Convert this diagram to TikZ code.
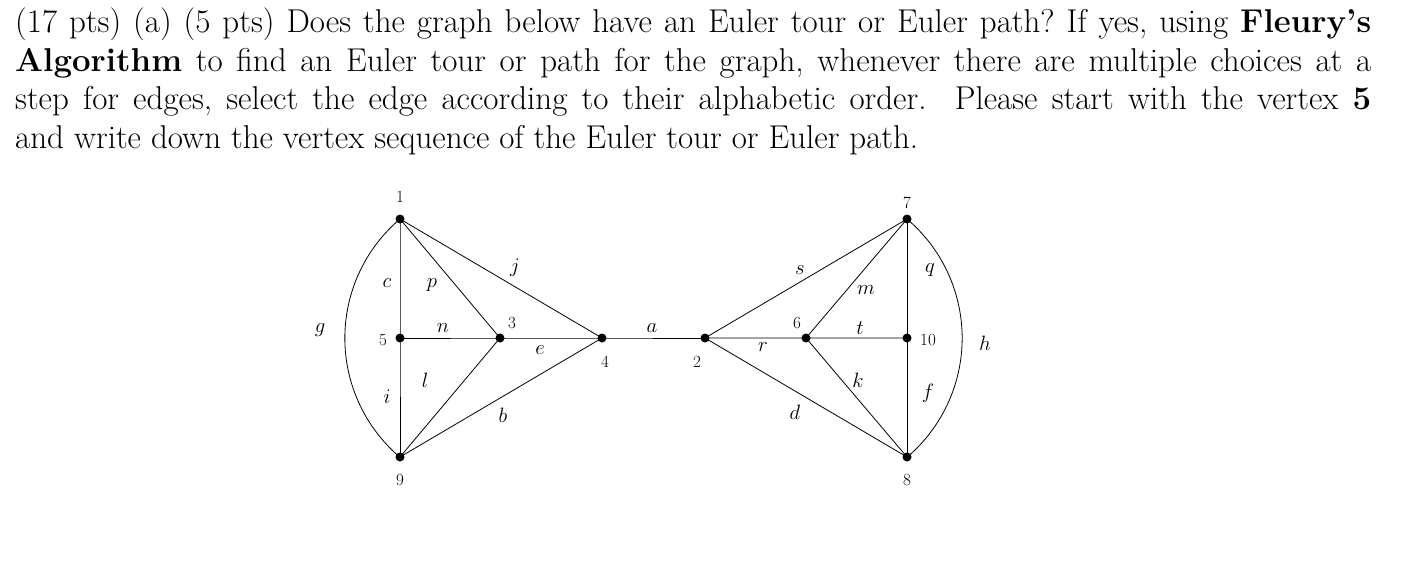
\documentclass[tikz,border=0pt]{standalone}
\begin{document}
\begin{tikzpicture}[x=1pt,y=-1pt,
  vtx/.style={circle,fill=black,inner sep=0pt,minimum size=9pt},
  el/.style={font=\fontsize{22}{22}\selectfont},
  nl/.style={font=\fontsize{17}{17}\selectfont},
  ed/.style={line width=0.8pt}]
\useasboundingbox (0,0) rectangle (1402,568);
\node[anchor=north west,inner sep=0pt,text width=1356pt,align=justify,
  font=\fontsize{33}{38.5}\selectfont\frenchspacing] (txt) at (15,8)
{(17 pts) (a) (5 pts) Does the graph below have an Euler tour or Euler path? If yes, using \textbf{Fleury's}\linebreak \textbf{Algorithm} to find an Euler tour or path for the graph, whenever there are multiple choices at a\linebreak step for edges, select the edge according to their alphabetic order.\ \ Please start with the vertex \textbf{5}\linebreak and write down the vertex sequence of the Euler tour or Euler path.};
\node[vtx] (v1) at (400,219) {};
\node[vtx] (v5) at (400,338) {};
\node[vtx] (v9) at (400,457) {};
\node[vtx] (v3) at (500,338) {};
\node[vtx] (v4) at (602,338) {};
\node[vtx] (v2) at (705,338) {};
\node[vtx] (v6) at (806,338) {};
\node[vtx] (v10) at (907,338) {};
\node[vtx] (v7) at (907,219) {};
\node[vtx] (v8) at (907,457) {};
\draw[ed] (v1.center)--(v5.center)--(v9.center);
\draw[ed] (v1.center)--(v3.center) (v1.center)--(v4.center);
\draw[ed] (v5.center)--(v3.center)--(v4.center)--(v2.center);
\draw[ed] (v9.center)--(v3.center) (v9.center)--(v4.center);
\draw[ed] (v2.center)--(v7.center) (v2.center)--(v6.center)--(v10.center) (v2.center)--(v8.center);
\draw[ed] (v6.center)--(v7.center) (v6.center)--(v8.center);
\draw[ed] (v7.center)--(v10.center)--(v8.center);
\draw[ed] (v1.center) arc[start angle=-130.3,end angle=-229.7,radius=156.2];
\draw[ed] (v7.center) arc[start angle=-49.7,end angle=49.7,radius=156.2];
\node[nl] (l1) at (400,197) {1};
\node[nl] (l5) at (383,340) {5};
\node[nl] (l9) at (400,480) {9};
\node[nl] (l3) at (512,323) {3};
\node[nl] (l4) at (605,362) {4};
\node[nl] (l2) at (697,362) {2};
\node[nl] (l6) at (797,323) {6};
\node[nl] (l10) at (928,340) {10};
\node[nl] (l7) at (907,203) {7};
\node[nl] (l8) at (907,480) {8};
\node[el] (ec) at (387,283) {$c$};
\node[el] (ep) at (432,285) {$p$};
\node[el] (ej) at (515,268) {$j$};
\node[el] (en) at (443,328) {$n$};
\node[el] (ee) at (540,350) {$e$};
\node[el] (ea) at (652,328) {$a$};
\node[el] (er) at (763,347) {$r$};
\node[el] (es) at (800,270) {$s$};
\node[el] (em) at (866,290) {$m$};
\node[el] (eq) at (930,270) {$q$};
\node[el] (et) at (860,328) {$t$};
\node[el] (ek) at (858,380) {$k$};
\node[el] (ef) at (928,393) {$f$};
\node[el] (ed) at (795,412) {$d$};
\node[el] (eb) at (503,415) {$b$};
\node[el] (el) at (425,380) {$l$};
\node[el] (ei) at (387,397) {$i$};
\node[el] (eg) at (320,330) {$g$};
\node[el] (eh) at (985,343) {$h$};
\end{tikzpicture}
\end{document}
